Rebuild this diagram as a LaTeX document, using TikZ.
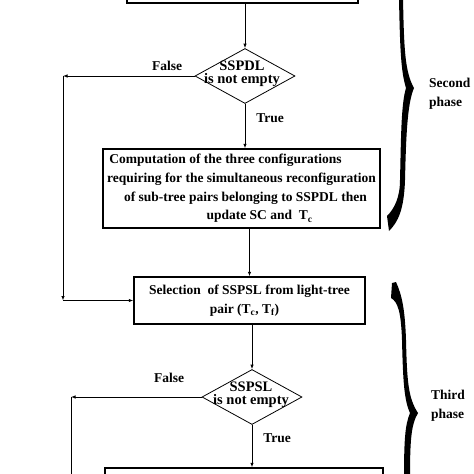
\documentclass[tikz,border=0pt]{standalone}
\usepackage{fontspec}
\setmainfont{Liberation Serif}
\usetikzlibrary{arrows.meta,calc,shapes.geometric}

\begin{document}
\begin{tikzpicture}[
    x=1pt, y=-1pt,
    font=\fontsize{13.5}{18.7}\selectfont\bfseries,
    stepbox/.style={draw, line width=1.4pt, inner sep=0pt, align=center},
    testbox/.style={draw, diamond, line width=0.8pt, inner sep=0pt,
      minimum width=100pt, minimum height=55pt},
    testtext/.style={inner sep=0pt, align=center,
      font=\fontsize{14.5}{13.5}\selectfont\bfseries},
    flowtag/.style={inner sep=0pt},
    phasetag/.style={inner sep=0pt, align=left, anchor=west},
    flow/.style={line width=0.8pt, -{Latex[length=4.5pt,width=3.5pt]}},
    flowplain/.style={line width=0.8pt}
  ]
  \clip (0,0) rectangle (474,474);

  % second phase
  \node[stepbox, minimum width=231pt, minimum height=46pt] (init) at (242.5,-20) {};
  \node[testbox] (dpl) at (245,76) {};
  \node[testtext] (dpltext) at (242,74) {SSPDL\\is not empty};
  \node[stepbox, minimum width=277pt, minimum height=79pt] (compute) at (241.5,188.5)
    {Computation of the three configurations\hspace*{32pt}\\
     requiring for the simultaneous reconfiguration\\
     \hspace*{8pt}of sub-tree pairs belonging to SSPDL then\\
     \hspace*{36pt}update SC and\ \ T\textsubscript{c}};

  % third phase
  \node[stepbox, minimum width=231pt, minimum height=47pt] (select) at (249.5,300.5)
    {Selection\ \ of SSPSL from light-tree\\
     pair (T\textsubscript{c}, T\textsubscript{f})\hspace*{10pt}};
  \node[testbox] (dps) at (252,397) {};
  \node[testtext] (dpstext) at (251,395) {SSPSL\\is not empty};
  \node[stepbox, minimum width=278pt, minimum height=64pt] (final) at (244,500) {};

  \node[flowtag] (dplno) at (167,66) {False};
  \node[flowtag] (dplyes) at (270,118) {True};
  \node[flowtag] (dpsno) at (169,378) {False};
  \node[flowtag] (dpsyes) at (277,438) {True};

  % main flow
  \draw[flow] (dpl.north |- init.south) -- (dpl.north);
  \draw[flow] (dpl.south) -- (compute.north -| dpl.south);
  \draw[flow] (select.north |- compute.south) -- (select.north);
  \draw[flow] (dps.north |- select.south) -- (dps.north);
  \draw[flow] (dps.south) -- (final.north -| dps.south);

  % false branches
  \coordinate (loopone) at (63,0);
  \coordinate (looptwo) at (71,490);
  \draw[flow] (dpl.west) -- (dpl.west -| loopone);
  \draw[flow] (dpl.west -| loopone) -- (select.west -| loopone);
  \draw[flow] (select.west -| loopone) -- (select.west);
  \draw[flow] (dps.west) -- (dps.west -| looptwo);
  \draw[flowplain] (dps.west -| looptwo) -- (looptwo);

  % phase braces
  \fill (399,-2) -- (403,-2) .. controls (404,50) and (405,72) .. (414,88)
    .. controls (407,104) and (406,140) .. (405,180)
    .. controls (404,210) and (398,222) .. (389,231) -- (387,216)
    .. controls (394,209) and (400,198) .. (400,180)
    .. controls (401,140) and (401,104) .. (406,88)
    .. controls (401,72) and (400,50) .. (399,-2) -- cycle;
  \node[phasetag] (secondtag) at (429,94) {Second\\phase};

  \fill (392,283) -- (396,282) .. controls (402,295) and (405,310) .. (406,340)
    .. controls (407,380) and (408,398) .. (418,413)
    .. controls (411,425) and (410,440) .. (410,480) -- (404,480)
    .. controls (404,440) and (405,425) .. (410,413)
    .. controls (404,400) and (403,380) .. (402,340)
    .. controls (401,312) and (398,302) .. (391,298) -- cycle;
  \node[phasetag] (thirdtag) at (431,406) {Third\\phase};
\end{tikzpicture}
\end{document}
